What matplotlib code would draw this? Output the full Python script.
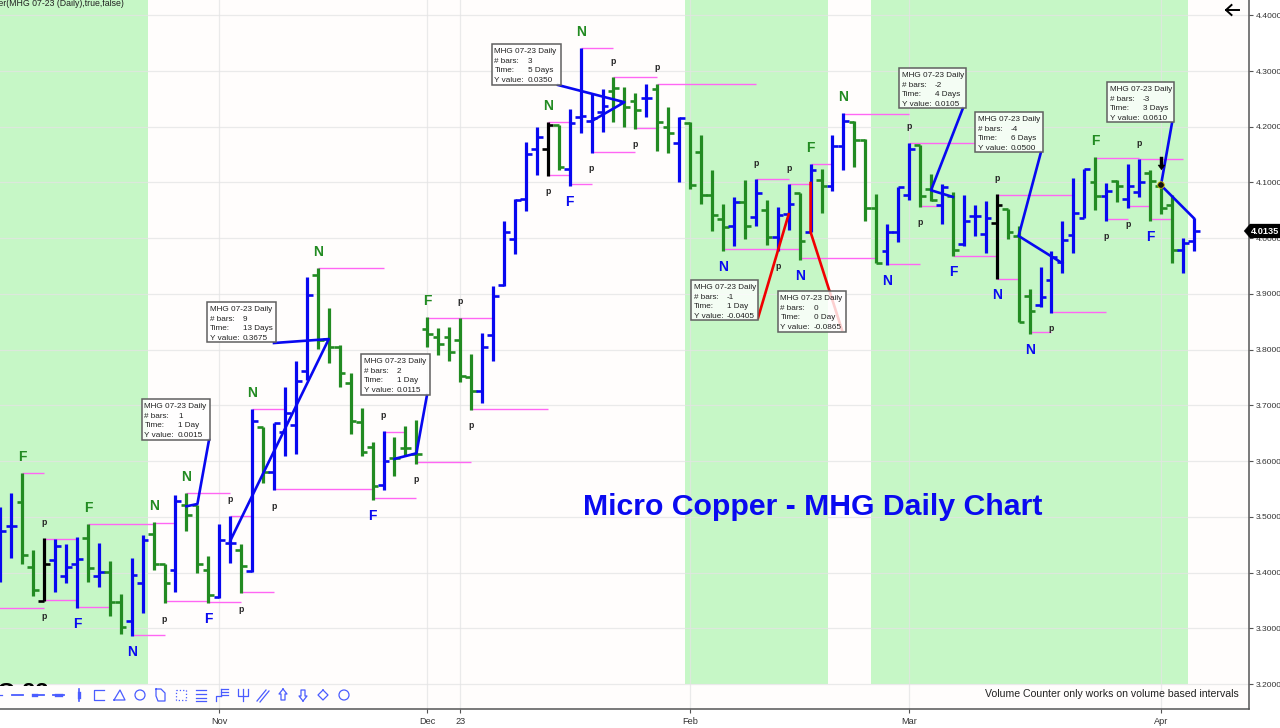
import matplotlib
matplotlib.use("Agg")
import matplotlib.pyplot as plt
from matplotlib.transforms import Affine2D
from matplotlib.patches import Rectangle, Polygon, Circle

plt.rcParams['font.family'] = ['Liberation Sans', 'DejaVu Sans']

highs = [3.518,3.543,3.579,3.441,3.462,3.460,3.451,3.464,3.487,3.453,
 3.421,3.361,3.426,3.467,3.491,3.415,3.539,3.543,3.521,3.430,
 3.487,3.502,3.451,3.694,3.661,3.668,3.733,3.780,3.930,3.947,
 3.875,3.808,3.758,3.695,3.634,3.654,3.643,3.663,3.674,3.859,
 3.839,3.841,3.857,3.792,3.830,3.914,4.031,4.070,4.173,4.200,
 4.209,4.203,4.232,4.341,4.259,4.268,4.289,4.271,4.261,4.277,
 4.277,4.235,4.218,4.209,4.185,4.122,4.061,4.074,4.104,4.106,
 4.069,4.056,4.097,4.081,4.133,4.124,4.185,4.225,4.210,4.178,
 4.079,4.025,4.092,4.171,4.167,4.115,4.097,4.083,4.078,4.060,
 4.067,4.079,4.052,4.022,3.909,3.948,3.977,4.031,4.108,4.124,
 4.146,4.099,4.104,4.133,4.142,4.122,4.095,4.078,4.000,4.036]
lows = [3.383,3.426,3.415,3.358,3.349,3.365,3.381,3.336,3.383,3.374,
 3.322,3.290,3.286,3.327,3.405,3.345,3.365,3.475,3.399,3.345,
 3.354,3.417,3.363,3.401,3.561,3.548,3.609,3.613,3.746,3.801,
 3.776,3.733,3.649,3.609,3.530,3.548,3.573,3.609,3.595,3.805,
 3.790,3.780,3.742,3.692,3.704,3.780,3.914,3.972,4.049,4.113,
 4.112,4.122,4.094,4.189,4.153,4.191,4.209,4.200,4.196,4.218,
 4.156,4.153,4.101,4.088,4.061,4.013,3.977,3.986,3.999,4.022,
 3.988,3.977,4.015,3.961,4.011,4.045,4.085,4.122,4.128,4.031,
 3.955,3.952,3.993,4.069,4.056,4.067,4.025,3.968,3.986,4.004,
 3.973,3.927,3.999,3.850,3.828,3.877,3.866,3.938,3.973,4.036,
 4.051,4.031,4.065,4.054,4.074,4.031,4.043,3.955,3.938,3.977]
opens = [3.405,3.484,3.527,3.410,3.349,3.423,3.394,3.415,3.462,3.394,
 3.401,3.347,3.313,3.381,3.469,3.415,3.405,3.521,3.521,3.405,
 3.356,3.453,3.441,3.403,3.661,3.580,3.652,3.665,3.762,3.934,
 3.819,3.805,3.740,3.670,3.625,3.557,3.606,3.624,3.613,3.837,
 3.823,3.823,3.817,3.751,3.726,3.826,3.916,3.999,4.070,4.160,
 4.160,4.203,4.124,4.218,4.210,4.226,4.264,4.244,4.246,4.252,
 4.268,4.200,4.171,4.207,4.155,4.078,4.034,4.022,4.065,4.038,
 4.051,4.002,4.043,4.081,4.011,4.104,4.094,4.165,4.209,4.176,
 4.054,3.977,4.011,4.078,4.167,4.088,4.060,4.076,3.990,4.040,
 4.008,4.027,4.052,4.004,3.896,3.880,3.925,3.957,4.006,4.036,
 4.101,4.076,4.103,4.070,4.083,4.117,4.094,4.060,3.979,3.995]
closes = [3.475,3.484,3.431,3.369,3.415,3.448,3.410,3.424,3.408,3.401,
 3.347,3.302,3.396,3.458,3.415,3.381,3.528,3.503,3.415,3.360,
 3.458,3.453,3.412,3.672,3.580,3.668,3.686,3.744,3.898,3.817,
 3.805,3.758,3.672,3.616,3.555,3.600,3.606,3.624,3.613,3.828,
 3.810,3.796,3.753,3.726,3.805,3.896,4.011,4.069,4.151,4.182,
 4.203,4.128,4.207,4.219,4.216,4.237,4.270,4.235,4.230,4.252,
 4.209,4.189,4.216,4.095,4.078,4.042,4.020,4.065,4.022,4.081,
 4.002,4.042,4.061,3.995,4.122,4.094,4.165,4.210,4.176,4.054,
 3.955,4.011,4.092,4.160,4.076,4.069,4.092,3.979,4.031,4.040,
 4.036,4.060,4.011,3.850,3.869,3.894,3.966,3.997,4.045,4.124,
 4.076,4.085,4.094,4.094,4.101,4.103,4.054,3.979,3.991,4.0135]
bar_colours = list(
 "BBGGKBBBGB" "GGBBGGBGGG" "BBGBGBBBBG" "GGGGGBGGGG"
 "GGGGBBBBBB" "KGBBBBGGGB" "GGBGGGGBGB" "GBBGBGBBGG"
 "GBBBGGBGBB" "BKGGGBBBBB" "GBGBBGGGBB")

# (first bar, last bar, price)
pivot_lines = [(-1,4,3.336),(2,4,3.579),(4,7,3.460),(4,7,3.350),(7,10,3.3375),(8,14,3.487),
 (14,16,3.489),(12,15,3.288),(15,19,3.349),(17,21,3.543),(19,22,3.347),(21,23,3.502),
 (22,25,3.365),(23,26,3.694),(25,34,3.550),(34,38,3.534),(35,37,3.652),(38,43,3.598),
 (29,35,3.947),(39,45,3.857),(43,50,3.694),(50,52,4.209),(50,52,4.114),(52,54,4.097),
 (53,56,4.341),(54,58,4.155),(56,60,4.289),(58,60,4.198),(60,69,4.277),(66,73,3.981),
 (69,72,4.106),(72,74,4.097),(74,76,4.133),(73,80,3.965),(77,83,4.223),(81,84,3.954),
 (83,89,4.171),(84,86,4.058),(87,91,3.968),(91,98,4.078),(91,93,3.9275),(94,96,3.832),
 (96,101,3.867),(100,104,4.144),(104,108,4.142),(101,103,4.034),(103,105,4.058),(105,107,4.034)]

# (letter, bar, side, colour)
bar_letters = [('F',2,'a','G'),('p',4,'a','K'),('p',4,'b','K'),('F',7,'b','B'),('F',8,'a','G'),
 ('N',14,'a','G'),('N',12,'b','B'),('N',17,'a','G'),('p',15,'b','K'),('F',19,'b','B'),
 ('p',21,'a','K'),('p',22,'b','K'),('N',23,'a','G'),('p',25,'b','K'),('N',29,'a','G'),
 ('F',34,'b','B'),('p',35,'a','K'),('p',38,'b','K'),('F',39,'a','G'),('p',42,'a','K'),
 ('p',43,'b','K'),('N',50,'a','G'),('p',50,'b','K'),('F',52,'b','B'),('N',53,'a','G'),
 ('p',54,'b','K'),('p',56,'a','K'),('p',58,'b','K'),('p',60,'a','K'),('N',66,'b','B'),
 ('p',69,'a','K'),('p',71,'b','K'),('p',72,'a','K'),('N',73,'b','B'),('F',74,'a','G'),
 ('N',77,'a','G'),('N',81,'b','B'),('p',83,'a','K'),('p',84,'b','K'),('F',87,'b','B'),
 ('p',91,'a','K'),('N',91,'b','B'),('N',94,'b','B'),('p',96,'b','K'),('F',100,'a','G'),
 ('p',101,'b','K'),('p',103,'b','K'),('p',104,'a','K'),('F',105,'b','B')]

# measurement callouts: box in chart pixels, anchor in pixels, trend points (bar, price)
callout_values = [
 ('1','1 Day','0.0015'),('9','13 Days','0.3675'),('2','1 Day','0.0115'),('3','5 Days','0.0350'),
 ('-1','1 Day','-0.0405'),('0','0 Day','-0.0865'),('-2','4 Days','0.0105'),('-4','6 Days','0.0500'),
 ('-3','3 Days','0.0610')]
callout_boxes = [(142,399,210,440),(207,302,276,342),(361,354,430,395),(492,44,561,85),
 (691,280,758,320),(778,291,846,332),(899,68,966,108),(975,112,1043,152),(1107,82,1174,122)]
callout_anchors = [(209,440),(274,343),(427,395),(558,85),(758,318),(842,330),(963,108),(1041,152),(1172,123)]
trend_points = [[(18,3.523),(17,3.519)],[(30,3.819),(21,3.457)],[(38,3.614),(36,3.604)],
 [(57,4.244),(54,4.210)],[(72,4.043)],[(74,4.011),(74,4.099)],[(85,4.086),(87,4.074)],
 [(93,4.004),(97,3.955)],[(106,4.095),(109,4.036)]]
trend_colours = ['b','b','b','b','r','r','b','b','b']

green_zones = [(-1,13.49),(62.53,75.59),(79.52,108.47)]
x_tick_bars = [20,39,42,63,83,106]
x_tick_labels = ['Nov','Dec','23','Feb','Mar','Apr']
y_ticks = [3.2,3.3,3.4,3.5,3.6,3.7,3.8,3.9,4.0,4.1,4.2,4.3,4.4]
last_price = '4.0135'

W, H = 1280, 728
BG = '#fffdfc'; GREEN_BG = '#c6f7c6'; GRID = '#e4e4e4'
BAR = {'B':'#0808f0','G':'#228b22','K':'#000000'}
LETTER = {'B':'#0a0af0','G':'#228b22','K':'#222222'}
TREND = {'b':'#0808f0','r':'#f00000'}

fig = plt.figure(figsize=(W/100, H/100), dpi=100, facecolor='white')
ax = fig.add_axes([0, 19/H, 1249/W, 709/H], facecolor=BG)
ax.set_xlim(-0.027, 114.04)
ax.set_ylim(3.1552, 4.4274)
PX = Affine2D().scale(1, -1).translate(0, H)

for a, b in green_zones:
    ax.fill_between([a, b], 3.2, 4.4274, color=GREEN_BG, lw=0, zorder=0)
ax.grid(True, color=GRID, lw=0.9, alpha=0.75, zorder=1)
ax.set_axisbelow(True)

for s in ('top', 'left'):
    ax.spines[s].set_visible(False)
for s in ('right', 'bottom'):
    ax.spines[s].set_color('#555555'); ax.spines[s].set_linewidth(1.1)
ax.yaxis.tick_right()
ax.set_yticks(y_ticks)
ax.set_yticklabels([f'{v:.4f}' for v in y_ticks])
ax.set_xticks(x_tick_bars)
ax.set_xticklabels(x_tick_labels)
ax.tick_params(axis='y', length=3, width=0.8, color='#555555', labelsize=6.1, labelcolor='#333333', pad=1.5)
ax.tick_params(axis='x', length=3, width=0.8, color='#555555', labelsize=6.6, labelcolor='#333333', pad=3)

for a, b, p in pivot_lines:
    ax.plot([a, b], [p, p], color='#ff66f4', lw=1.0, solid_capstyle='butt', zorder=2)

TICK = 0.5
for i, (h, l, o, c, k) in enumerate(zip(highs, lows, opens, closes, bar_colours)):
    col = BAR[k]
    ax.plot([i, i], [l, h], color=col, lw=2.3, solid_capstyle='butt', zorder=3)
    ax.plot([i-TICK-0.02, i], [o, o], color=col, lw=1.9, solid_capstyle='butt', zorder=3)
    ax.plot([i, i+TICK+0.02], [c, c], color=col, lw=1.9, solid_capstyle='butt', zorder=3)

for ch, i, side, k in bar_letters:
    anchor = highs[i] if side == 'a' else lows[i]
    off = 11.5 if side == 'a' else -11.5
    ax.annotate(ch, (i, anchor), xytext=(0, off), textcoords='offset points', ha='center', va='center',
                color=LETTER[k], fontsize=10 if ch != 'p' else 6.2, fontweight='bold', zorder=4)

fig.canvas.draw()
data_to_px = ax.transData + PX.inverted()
for box, anchor, pts, vals, tc in zip(callout_boxes, callout_anchors, trend_points, callout_values, trend_colours):
    line_px = [anchor] + [tuple(data_to_px.transform(p)) for p in pts]
    ax.plot([p[0] for p in line_px], [p[1] for p in line_px], transform=PX, color=TREND[tc],
            lw=1.9, solid_joinstyle='round', zorder=5, clip_on=False)
    l, t, r, b = box
    fig.add_artist(Rectangle((l, t), r-l, b-t, transform=PX, facecolor='white', alpha=0.82, edgecolor='none', zorder=6))
    fig.add_artist(Rectangle((l, t), r-l, b-t, transform=PX, fill=False, edgecolor='#606060', lw=1.1, zorder=6))
    labels = ['MHG 07-23 Daily', '# bars:', 'Time:', 'Y value:']
    vtext = ['', vals[0], vals[1], vals[2]]
    for n in range(4):
        y = t + 7.5 + n*9.7
        fig.text(l+2.5, y, labels[n], transform=PX, fontsize=5.85, color='#222222', va='center', ha='left', zorder=7)
        if vtext[n]:
            fig.text(l+36, y, vtext[n], transform=PX, fontsize=5.85, color='#222222', va='center', ha='left', zorder=7)

# marker at the last measurement
fig.add_artist(Circle((1161, 185), 3.3, transform=PX, facecolor='#111111', edgecolor='#d4b800', lw=0.6, zorder=8))
fig.add_artist(Polygon([(1160,157),(1163,157),(1163,165),(1165,165),(1161.5,170),(1158,165),(1160,165)],
                       transform=PX, facecolor='black', edgecolor='black', lw=0.3, zorder=8))

# header, notes
fig.text(124, 3, 'Counter(MHG 07-23 (Daily),true,false)', transform=PX, fontsize=6.3, color='#222222',
         ha='right', va='center', zorder=8)
fig.text(813, 507, 'Micro Copper - MHG Daily Chart', transform=PX, fontsize=21.8, fontweight='bold',
         color='#0a0af0', ha='center', va='center', zorder=8)
fig.text(1239, 694, 'Volume Counter only works on volume based intervals', transform=PX, fontsize=7.6,
         color='#222222', ha='right', va='center', zorder=8)
fig.text(-3, 700, 'G 23', transform=PX, fontsize=17, fontweight='bold', color='black', ha='left',
         va='baseline', zorder=8)
fig.add_artist(Rectangle((0, 685.5), 60, 22.5, transform=PX, facecolor=BG, edgecolor='none', zorder=8.5))

# back arrow
fig.add_artist(plt.Line2D([1226, 1239], [10, 10], transform=PX, color='black', lw=1.4, zorder=8))
fig.add_artist(plt.Line2D([1231.5, 1226, 1231.5], [5, 10, 15], transform=PX, color='black', lw=1.4, zorder=8))

# price flag
fig.add_artist(Polygon([(1244,231),(1250,224),(1280,224),(1280,238),(1250,238)], transform=PX,
                       facecolor='black', edgecolor='black', lw=0.2, zorder=8))
fig.text(1265, 231, last_price, transform=PX, fontsize=6.6, fontweight='bold', color='white', ha='center',
         va='center', zorder=9)

# drawing toolbar icons
ICON = '#4a5cff'
def seg(*pts, lw=0.9, ls='-'):
    fig.add_artist(plt.Line2D([p[0] for p in pts], [p[1] for p in pts], transform=PX, color=ICON, lw=lw, ls=ls, zorder=9))
def ring(cx):
    fig.add_artist(Circle((cx, cy), 5, transform=PX, fill=False, edgecolor=ICON, lw=0.9, zorder=9))
cy = 695
seg((0,cy),(2,cy))
seg((12,cy),(23,cy), lw=1.3)
seg((33,cy),(44,cy), lw=1.3); seg((33,cy),(36,cy), lw=2.4)
seg((53,cy),(64,cy), lw=1.3); seg((56,cy),(61,cy), lw=2.4)
seg((79,cy-6),(79,cy+6), lw=1.2); seg((79,cy-2),(79,cy+2), lw=2.4)
seg((104,cy-5),(94,cy-5),(94,cy+5),(104,cy+5))
seg((114,cy+5),(120,cy-5),(125,cy+5),(114,cy+5))
ring(140)
seg((156,cy-6),(161,cy-6),(165,cy-2),(165,cy+6),(158,cy+6),(156,cy+1),(156,cy-6))
seg((176,cy-5),(186,cy-5),(186,cy+5),(176,cy+5),(176,cy-5), ls=':')
for d in (-5,-1,3,6):
    seg((196,cy+d),(206,cy+d))
seg((216,cy+6),(216,cy+1),(221,cy+1)); seg((221,cy-6),(221,cy+1))
for d in (-6,-3,0):
    seg((221,cy+d),(228,cy+d))
seg((238,cy-6),(238,cy+1),(248,cy+1),(248,cy-6)); seg((243,cy-6),(243,cy+6))
seg((257,cy+6),(266,cy-5)); seg((260,cy+7),(269,cy-4))
seg((283,cy-6),(287,cy-1),(285,cy-1),(285,cy+5),(281,cy+5),(281,cy-1),(279,cy-1),(283,cy-6))
seg((303,cy+6),(307,cy+1),(305,cy+1),(305,cy-5),(301,cy-5),(301,cy+1),(299,cy+1),(303,cy+6))
seg((323,cy-5),(328,cy),(323,cy+5),(318,cy),(323,cy-5))
ring(344)

fig.savefig('out.png', dpi=100, facecolor='white')
